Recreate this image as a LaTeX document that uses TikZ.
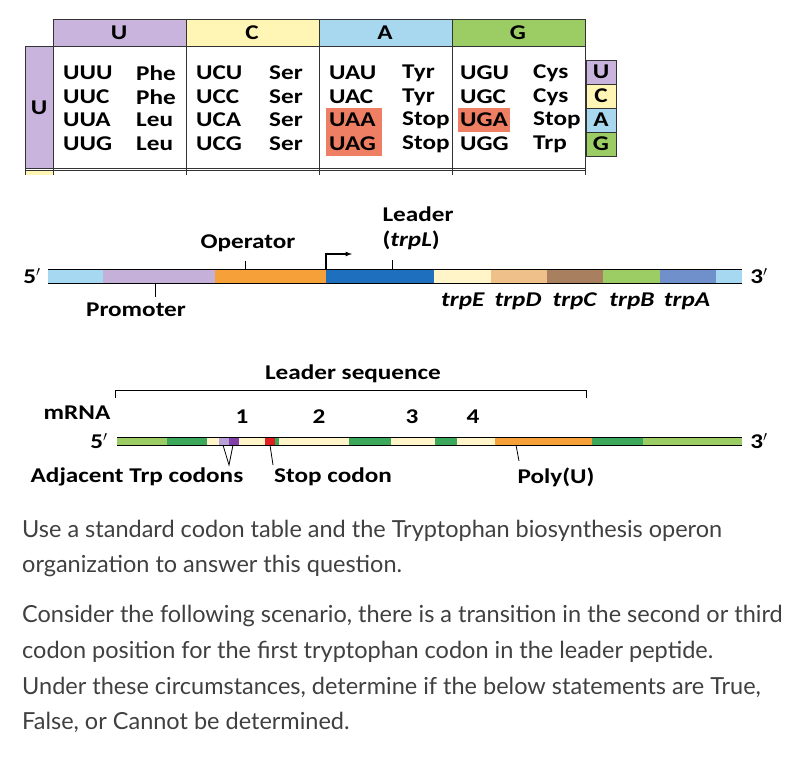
\documentclass[tikz,border=0pt]{standalone}
\usepackage{fontspec}
\setmainfont{Carlito}[FakeStretch=1.2]
\newfontfamily\latofont{Lato}
\begin{document}
\begin{tikzpicture}[x=1pt,y=-1pt,
  tb/.style={font=\bfseries\fontsize{21}{21}\selectfont,inner sep=0pt},
  lb/.style={font=\bfseries\fontsize{21}{21}\selectfont,inner sep=0pt},
  para/.style={font=\latofont\fontsize{23.5}{23.5}\selectfont,text=black!75,anchor=west,inner sep=0pt},
  cell/.style={draw=black!80,line width=0.8pt},
  tick/.style={line width=1pt}]
\useasboundingbox (0,0) rectangle (811,771);
\definecolor{cU}{HTML}{C8B4DC}\definecolor{cC}{HTML}{FFF5B4}
\definecolor{cA}{HTML}{A8D8F0}\definecolor{cG}{HTML}{9CCC64}
\definecolor{hl}{HTML}{EE7F64}
% header
\foreach \x/\l/\c in {53/U/cU,186/C/cC,319/A/cA,452/G/cG}{
  \fill[\c] (\x,19) rectangle ++(133,27);
  \node[tb] (h\l) at (\x+66,33) {\l};}
\draw[cell] (53,19) rectangle (585,46);
\foreach \x in {186,319,452} \draw[cell] (\x,19) -- (\x,175);
\fill[cU] (25,46) rectangle (53,168);
\fill[cC] (25,170) rectangle (53,175);
\draw[cell] (25,46) -- (25,175); \draw[cell] (53,46) -- (53,175);
\draw[cell] (25,46) -- (53,46); \draw[cell] (25,168) -- (585,168);
\draw[cell] (585,46) -- (585,175); \draw[cell] (25,170) -- (585,170);
\node[tb] (lu) at (39,108) {U};
% highlights
\fill[hl] (326,108) rectangle (382,156);
\fill[hl] (458,108) rectangle (510,132);
% right boxes
\foreach \y/\l/\c in {60/U/cU,84/C/cC,108/A/cA,132/G/cG}{
  \fill[\c] (586,\y) rectangle ++(30,24);
  \draw[cell] (586,\y) rectangle ++(30,24);
  \node[tb] (r\l) at (601,\y+12) {\l};}
% table text
\foreach \x/\a/\b/\c/\d/\e/\f/\g/\h [count=\i] in {
  63/UUU/Phe/UUC/Phe/UUA/Leu/UUG/Leu,
  196/UCU/Ser/UCC/Ser/UCA/Ser/UCG/Ser,
  329/UAU/Tyr/UAC/Tyr/UAA/Stop/UAG/Stop,
  460/UGU/Cys/UGC/Cys/UGA/Stop/UGG/Trp}{
  \node[tb,anchor=west] (c\i a) at (\x,73) {\a};
  \node[tb,anchor=west] (c\i b) at (\x+73,73) {\b};
  \node[tb,anchor=west] (c\i c) at (\x,97) {\c};
  \node[tb,anchor=west] (c\i d) at (\x+73,97) {\d};
  \node[tb,anchor=west] (c\i e) at (\x,120) {\e};
  \node[tb,anchor=west] (c\i f) at (\x+73,120) {\f};
  \node[tb,anchor=west] (c\i g) at (\x,144) {\g};
  \node[tb,anchor=west] (c\i h) at (\x+73,144) {\h};}
% DNA bar
\foreach \a/\b/\c in {48/103/A6D8F2,103/215/C4B0D8,215/326/F6A03A,326/434/1E6FBE,434/491/FFF5C8,491/547/F0C08A,547/603/A88060,603/660/9CCC64,660/716/7090CC,716/742/A6D8F2}{
  \definecolor{tmp}{HTML}{\c}\fill[tmp] (\a,269) rectangle (\b,283);}
\draw[line width=0.8pt] (48,269) -- (742,269) (48,283) -- (742,283);
\node[lb] (d5) at (32,276) {5$'$};
\node[lb] (d3) at (759,276) {3$'$};
\coordinate (opt) at (245,269); \coordinate (trt) at (392,269); \coordinate (prt) at (155,283);
\node[lb] (op) at (248,243) {Operator};
\node[lb,align=left] (ld) at (418,228) {Leader\\[4pt](\textit{trpL})};
\node[lb] (pr) at (136,310) {Promoter};
\draw[tick] (opt) -- ++(0,-8); \draw[tick] (trt) -- ++(0,-9); \draw[tick] (prt) -- ++(0,14);
\coordinate (ts) at (326,269); \coordinate (te) at (352,254);
\draw[line width=1.2pt,-latex] (ts) |- (te);
\foreach \x/\g in {463/E,518/D,575/C,632/B,687/A}
  \node[lb] (g\g) at (\x,301) {\textit{trp\g}};
% mRNA
\foreach \a/\b/\c in {117/167/9CCC64,167/207/3CA85C,207/219/FFF5C8,219/229/B8A0D8,229/239/8040A8,239/265/FFF5C8,265/275/E02020,275/279/3CA85C,279/349/FFF5C8,349/391/3CA85C,391/435/FFF5C8,435/457/3CA85C,457/495/FFF5C8,495/592/F6A03A,592/643/3CA85C,643/742/9CCC64}{
  \definecolor{tmp}{HTML}{\c}\fill[tmp] (\a,437) rectangle (\b,445);}
\draw[line width=0.6pt] (117,437) -- (742,437) (117,445) -- (742,445);
\node[lb] (m5) at (99,441) {5$'$};
\node[lb] (m3) at (759,441) {3$'$};
\coordinate (b1) at (115,398); \coordinate (b2) at (586,398);
\draw[line width=1pt] (b1) -- ++(0,-8) -- (586,390) -- (b2);
\node[lb] (ls) at (353,374) {Leader sequence};
\node[lb] (mr) at (77,413) {mRNA};
\foreach \x/\n in {242/1,319/2,412/3,473/4} \node[lb] (n\n) at (\x,417) {\n};
\coordinate (v1) at (223,445); \coordinate (v2) at (233,445); \coordinate (v3) at (229,465);
\draw[line width=0.8pt] (v1) -- (v3) -- (v2);
\coordinate (s1) at (270,445); \coordinate (s2) at (273,465);
\draw[line width=0.8pt] (s1) -- (s2);
\coordinate (p1) at (516,445); \coordinate (p2) at (519,461);
\draw[line width=0.8pt] (p1) -- (p2);
\node[lb] (atc) at (137,477) {Adjacent Trp codons};
\node[lb] (sc) at (333,477) {Stop codon};
\node[lb] (pu) at (556,477) {Poly(U)};
% paragraph
\node[para] (t1) at (22,531) {Use a standard codon table and the Tryptophan biosynthesis operon};
\node[para] (t2) at (22,566) {organization to answer this question.};
\node[para] (t3) at (22,616) {Consider the following scenario, there is a transition in the second or third};
\node[para] (t4) at (22,652) {codon position for the first tryptophan codon in the leader peptide.};
\node[para] (t5) at (22,687) {Under these circumstances, determine if the below statements are True,};
\node[para] (t6) at (22,722) {False, or Cannot be determined.};
\end{tikzpicture}
\end{document}
